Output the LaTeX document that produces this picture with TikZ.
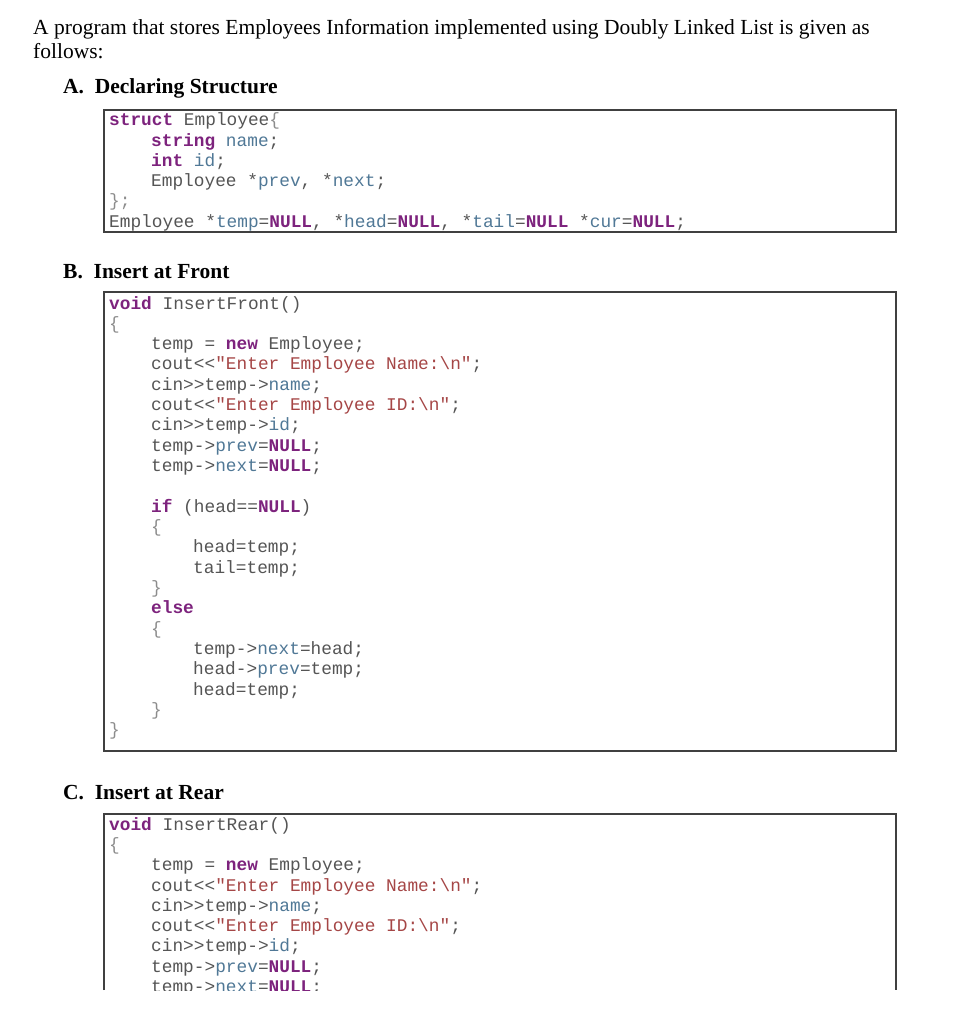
\documentclass[tikz,border=0pt]{standalone}
\usepackage{fontspec}
\setmainfont{Liberation Serif}
\newfontfamily\code{Liberation Mono}[Ligatures={}]
\definecolor{kw}{RGB}{125,35,125}
\definecolor{idc}{RGB}{85,85,85}
\definecolor{strc}{RGB}{165,70,70}
\definecolor{memc}{RGB}{80,120,150}
\definecolor{brc}{RGB}{140,140,140}
\newcommand{\K}[1]{\textcolor{kw}{\bfseries #1}}
\newcommand{\Sg}[1]{\textcolor{strc}{#1}}
\newcommand{\M}[1]{\textcolor{memc}{#1}}
\newcommand{\Bc}[1]{\textcolor{brc}{#1}}
\newcommand{\LL}{{<}{<}}
\newcommand{\GG}{{>}{>}}
\newcommand{\AR}{-{>}}
\begin{document}
\begin{tikzpicture}[x=1pt,y=-1pt,
  txt/.style={anchor=base west,inner sep=0pt,font=\fontsize{21.5}{25}\selectfont},
  hd/.style={anchor=base west,inner sep=0pt,font=\fontsize{21.5}{25}\selectfont\bfseries},
  cd/.style={anchor=base west,inner sep=0pt,text=idc,font=\code\fontsize{17.8}{20}\selectfont},
  box/.style={draw=black!75,line width=1.2pt}]
\useasboundingbox (0,0) rectangle (955,1024);
\node[txt] (t1) at (33,35) {A program that stores Employees Information implemented using Doubly Linked List is given as};
\node[txt] (t2) at (33,59) {follows:};
\node[hd] (ha) at (63,94) {A.\ \ Declaring Structure};
\node[hd] (hb) at (63,278) {B.\ \ Insert at Front};
\node[hd] (hc) at (63,799) {C.\ \ Insert at Rear};
\draw[box] (104,110) rectangle (896,232);
\draw[box] (104,292) rectangle (896,751);
\draw[box] (104,990) -- (104,814) -- (896,814) -- (896,990);
% A
\foreach \i/\x/\t in {0/109/{\K{struct} Employee\Bc{\{}},
 1/151/{\K{string} \M{name};},
 2/151/{\K{int} \M{id};},
 3/151/{Employee *\M{prev}, *\M{next};},
 4/109/{\Bc{\};}},
 5/109/{Employee *\M{temp}=\K{NULL}, *\M{head}=\K{NULL}, *\M{tail}=\K{NULL} *\M{cur}=\K{NULL};}}
 \node[cd] (a\i) at (\x,{126+20.2*\i}) {\t};
% B
\foreach \i/\x/\t in {0/109/{\K{void} InsertFront()},
 1/109/{\Bc{\{}},
 2/151/{temp = \K{new} Employee;},
 3/151/{cout\LL\Sg{"Enter Employee Name:\textbackslash n"};},
 4/151/{cin\GG temp\AR\M{name};},
 5/151/{cout\LL\Sg{"Enter Employee ID:\textbackslash n"};},
 6/151/{cin\GG temp\AR\M{id};},
 7/151/{temp\AR\M{prev}=\K{NULL};},
 8/151/{temp\AR\M{next}=\K{NULL};},
 10/151/{\K{if} (head==\K{NULL})},
 11/151/{\Bc{\{}},
 12/193/{head=temp;},
 13/193/{tail=temp;},
 14/151/{\Bc{\}}},
 15/151/{\K{else}},
 16/151/{\Bc{\{}},
 17/193/{temp\AR\M{next}=head;},
 18/193/{head\AR\M{prev}=temp;},
 19/193/{head=temp;},
 20/151/{\Bc{\}}},
 21/109/{\Bc{\}}}}
 \node[cd] (b\i) at (\x,{309+20.33*\i}) {\t};
% C
\begin{scope}
\clip (100,814) rectangle (900,990);
\foreach \i/\x/\t in {0/109/{\K{void} InsertRear()},
 1/109/{\Bc{\{}},
 2/151/{temp = \K{new} Employee;},
 3/151/{cout\LL\Sg{"Enter Employee Name:\textbackslash n"};},
 4/151/{cin\GG temp\AR\M{name};},
 5/151/{cout\LL\Sg{"Enter Employee ID:\textbackslash n"};},
 6/151/{cin\GG temp\AR\M{id};},
 7/151/{temp\AR\M{prev}=\K{NULL};},
 8/151/{temp\AR\M{next}=\K{NULL};}}
 \node[cd] (c\i) at (\x,{830+20.33*\i}) {\t};
\end{scope}
\end{tikzpicture}
\end{document}
